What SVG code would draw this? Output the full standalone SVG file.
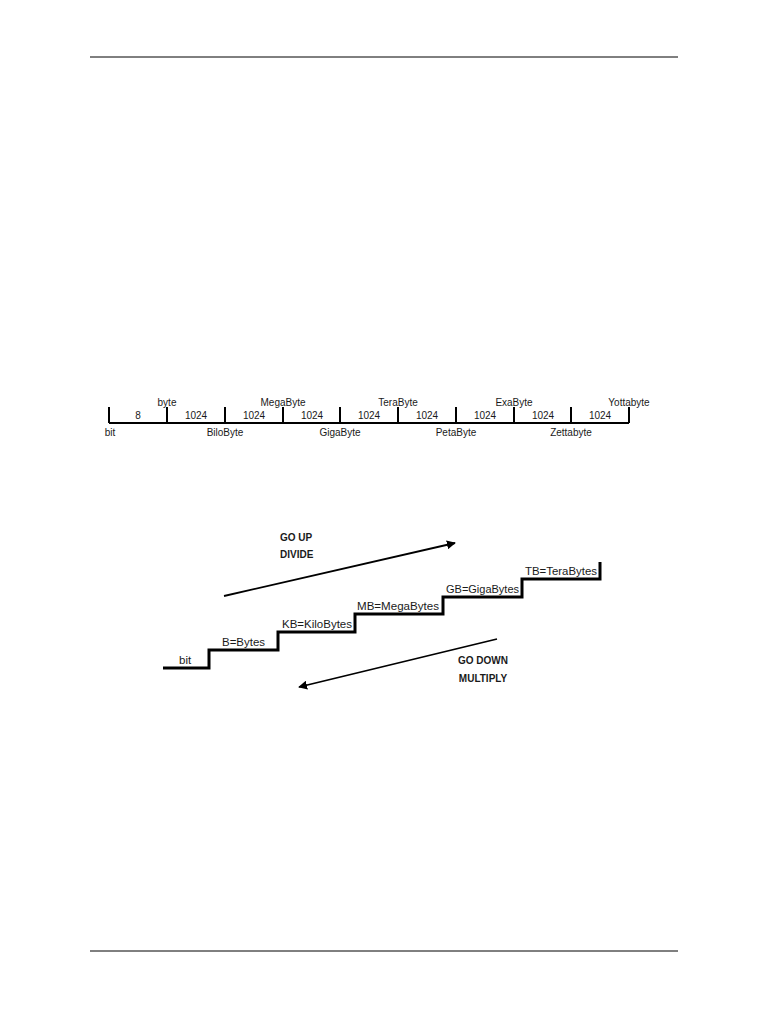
<svg xmlns="http://www.w3.org/2000/svg" width="768" height="1024" viewBox="0 0 768 1024">
<style>
.rule{stroke:#000;stroke-width:1}
.ax{stroke:#000;stroke-width:2;fill:none}
.t{font-family:"Liberation Sans",Arial,sans-serif;font-size:10px;fill:#1a1a1a;text-anchor:middle}
.s{font-family:"Liberation Sans",Arial,sans-serif;font-size:11.5px;fill:#1a1a1a}
.b{font-family:"Liberation Sans",Arial,sans-serif;font-size:10px;font-weight:bold;fill:#1a1a1a}
.stair{stroke:#000;stroke-width:3;fill:none}
.arr{stroke:#000;stroke-width:1.8;fill:none}
</style>
<defs>
<marker id="ah" viewBox="0 0 10 10" refX="9" refY="5" markerWidth="5" markerHeight="5" orient="auto" markerUnits="strokeWidth">
<path d="M0,0 L10,5 L0,10 z" fill="#000"/>
</marker>
</defs>
<rect width="768" height="1024" fill="#fff"/>
<line class="rule" x1="90" y1="57" x2="678" y2="57"/>
<line class="rule" x1="90" y1="951" x2="678" y2="951"/>
<g id="timeline">
<path class="ax" d="M109,423 H629 M109,407 V423 M167,407 V423 M225,407 V423 M283,407 V423 M340,407 V423 M398,407 V423 M456,407 V423 M514,407 V423 M571,407 V423 M629,407 V423"/>
<text class="t" x="138" y="419">8</text>
<text class="t" x="196" y="419">1024</text>
<text class="t" x="254" y="419">1024</text>
<text class="t" x="312" y="419">1024</text>
<text class="t" x="369" y="419">1024</text>
<text class="t" x="427" y="419">1024</text>
<text class="t" x="485" y="419">1024</text>
<text class="t" x="543" y="419">1024</text>
<text class="t" x="600" y="419">1024</text>
<text class="t" x="167" y="406">byte</text>
<text class="t" x="283" y="406">MegaByte</text>
<text class="t" x="398" y="406">TeraByte</text>
<text class="t" x="514" y="406">ExaByte</text>
<text class="t" x="629" y="406">Yottabyte</text>
<text class="t" x="110" y="436">bit</text>
<text class="t" x="225" y="436">BiloByte</text>
<text class="t" x="340" y="436">GigaByte</text>
<text class="t" x="456" y="436">PetaByte</text>
<text class="t" x="571" y="436">Zettabyte</text>
</g>
<g id="stairs">
<path class="stair" d="M163,668 H209 V650 H278 V632 H355 V614 H443 V597 H522 V579 H600 V562"/>
<text class="s" x="179" y="664">bit</text>
<text class="s" x="222" y="646" textLength="43" lengthAdjust="spacingAndGlyphs">B=Bytes</text>
<text class="s" x="282" y="628" textLength="70" lengthAdjust="spacingAndGlyphs">KB=KiloBytes</text>
<text class="s" x="357" y="610" textLength="82" lengthAdjust="spacingAndGlyphs">MB=MegaBytes</text>
<text class="s" x="446" y="593" textLength="73" lengthAdjust="spacingAndGlyphs">GB=GigaBytes</text>
<text class="s" x="525" y="575" textLength="72" lengthAdjust="spacingAndGlyphs">TB=TeraBytes</text>
</g>
<g id="connectors">
<line class="arr" x1="224" y1="596" x2="455" y2="543" marker-end="url(#ah)"/>
<line class="arr" x1="497" y1="639" x2="299" y2="687" marker-end="url(#ah)"/>
</g>
<g id="labels">
<text class="b" x="280" y="541">GO UP</text>
<text class="b" x="280" y="558">DIVIDE</text>
<text class="b" x="483" y="664" text-anchor="middle">GO DOWN</text>
<text class="b" x="483" y="682" text-anchor="middle">MULTIPLY</text>
</g>
</svg>
